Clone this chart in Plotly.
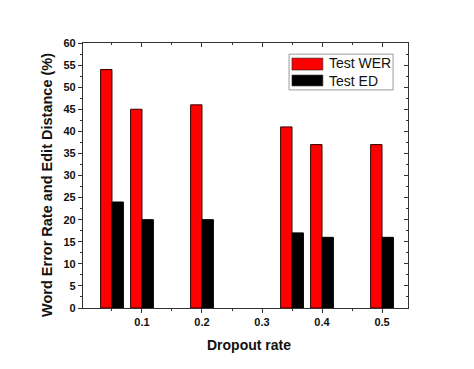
import plotly.graph_objects as go

dropout = [0.05, 0.1, 0.2, 0.35, 0.4, 0.5]
test_wer = [54, 45, 46, 41, 37, 37]
test_ed = [24, 20, 20, 17, 16, 16]
x_ticks = [0.1, 0.2, 0.3, 0.4, 0.5]
y_ticks = list(range(0, 61, 5))
series_names = ["Test WER", "Test ED"]
series_colors = ["#ff0000", "#000000"]

FONT = "Liberation Sans, Arial, sans-serif"
bw = 0.019

fig = go.Figure()
fig.add_trace(go.Bar(x=dropout, y=test_wer, name=series_names[0], width=bw, offset=-bw,
                     marker=dict(color=series_colors[0], line=dict(color="#3a0000", width=1))))
fig.add_trace(go.Bar(x=dropout, y=test_ed, name=series_names[1], width=bw, offset=0,
                     marker=dict(color=series_colors[1], line=dict(color="#000000", width=1))))

xr = [0.0017, 0.5433]
yr = [0, 60]
axcol = "#333333"
fig.update_layout(
    width=474, height=369,
    margin=dict(l=83, r=66, t=43, b=61),
    paper_bgcolor="white", plot_bgcolor="white",
    barmode="overlay",
    font=dict(family=FONT, color="#111111"),
    showlegend=False,
    xaxis=dict(range=xr, tickvals=x_ticks, ticktext=[str(v) for v in x_ticks],
               ticks="outside", ticklen=4, tickwidth=1, tickcolor=axcol,
               minor=dict(dtick=0.05, tick0=0.05, ticks="outside", ticklen=2, tickcolor=axcol),
               showline=True, linecolor=axcol, linewidth=1.2, showgrid=False, zeroline=False,
               tickfont=dict(size=11, family=FONT, weight="bold")),
    yaxis=dict(range=yr, tickvals=y_ticks, ticks="outside", ticklen=4, tickwidth=1, tickcolor=axcol,
               minor=dict(dtick=2.5, ticks="outside", ticklen=2, tickcolor=axcol),
               showline=True, linecolor=axcol, linewidth=1.2, showgrid=False, zeroline=False,
               tickfont=dict(size=11, family=FONT, weight="bold")),
    xaxis2=dict(range=xr, overlaying="x", side="top", anchor="y", tickvals=x_ticks,
                showticklabels=False, ticks="inside", ticklen=4, tickcolor=axcol,
                minor=dict(dtick=0.05, tick0=0.05, ticks="inside", ticklen=2, tickcolor=axcol),
                showline=True, linecolor=axcol, linewidth=1.2, showgrid=False, zeroline=False),
    yaxis2=dict(range=yr, overlaying="y", side="right", anchor="x", tickvals=y_ticks,
                showticklabels=False, ticks="inside", ticklen=4, tickcolor=axcol,
                minor=dict(dtick=2.5, ticks="inside", ticklen=2, tickcolor=axcol),
                showline=True, linecolor=axcol, linewidth=1.2, showgrid=False, zeroline=False),
)
# invisible trace to activate secondary axes
fig.add_trace(go.Scatter(x=[xr[0]], y=[0], xaxis="x2", yaxis="y2", mode="markers",
                         marker=dict(opacity=0), showlegend=False, hoverinfo="skip"))

# legend drawn as a box with wide swatches (as in the reference)
fig.add_shape(type="rect", xref="paper", yref="paper", x0=0.634, x1=0.954, y0=0.823, y1=0.958,
              line=dict(color="#999999", width=1), fillcolor="white", layer="above")
sw_y = [(0.898, 0.943), (0.838, 0.879)]
txt_y = [0.923, 0.858]
for name, col, (y0, y1), ty in zip(series_names, series_colors, sw_y, txt_y):
    fig.add_shape(type="rect", xref="paper", yref="paper", x0=0.643, x1=0.738, y0=y0, y1=y1,
                  line=dict(color="#222222", width=0.6), fillcolor=col, layer="above")
    fig.add_annotation(text=name, xref="paper", yref="paper", x=0.751, y=ty,
                       xanchor="left", yanchor="middle", showarrow=False,
                       font=dict(size=14, family=FONT, color="#111111"))

fig.add_annotation(text="<b>Dropout rate</b>", xref="paper", yref="paper",
                   x=0.51, y=-0.14, xanchor="center", yanchor="middle", showarrow=False,
                   font=dict(size=14, family=FONT, color="#111111"))
fig.add_annotation(text="<b>Word Error Rate and Edit Distance (%)</b>", xref="paper", yref="paper",
                   x=-0.111, y=0.464, xanchor="center", yanchor="middle", showarrow=False, textangle=-90,
                   font=dict(size=14.5, family=FONT, color="#111111"))

fig.write_html("out.html", config={"displayModeBar": False},
               post_script="document.body.style.margin='0';document.body.style.padding='0';")
